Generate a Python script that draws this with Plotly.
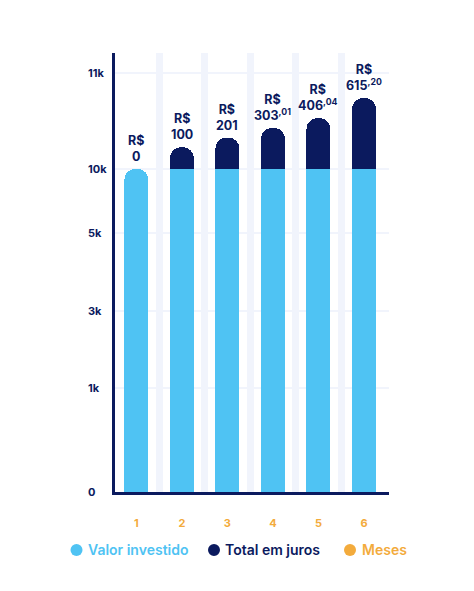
import numpy as np
import plotly.graph_objects as go

# dados
meses = [1, 2, 3, 4, 5, 6]
valor_investido = [10000, 10000, 10000, 10000, 10000, 10000]
total_juros = [0, 100, 201, 303.01, 406.04, 615.20]

# eixo y com escala própria (não linear)
ticks_y = [0, 1000, 3000, 5000, 10000, 11000]
ticks_y_texto = ["0", "1k", "3k", "5k", "10k", "11k"]
escala_y = [0, 104.5, 181.5, 259, 323.5, 419]

legenda_nomes = ["Valor investido", "Total em juros", "Meses"]

AZUL = "#4fc3f3"
MARINHO = "#0b1a5e"
LARANJA = "#f3ab3c"
GRADE = "#f1f4fc"

# a página tem margem de 8px no body
OFF = 8
W, H = 474 - OFF, 591 - OFF
L, R, T, B = 107, 85, 45, 98.5
PW, PH = W - L - R, H - T - B
X_RANGE = [0.53, 6.55]
BARGAP = 0.473


def pos(v):
    return np.interp(v, ticks_y, escala_y)


def px_x(px):
    return (px - OFF - L) / PW


def px_y(py):
    return (H - B - (py - OFF)) / PH


investido = np.array(valor_investido, dtype=float)
juros = np.array(total_juros, dtype=float)
topo = pos(investido + juros)
base = pos(investido)

largura_px = (1 - BARGAP) * PW / (X_RANGE[1] - X_RANGE[0])
raio = largura_px / 2  # eixo y em px (range = altura da área)

# tampa arredondada acima do valor quando há juros
tampa = np.where(juros > 0, raio, 0)

fig = go.Figure()
fig.add_trace(go.Bar(x=meses, y=base,
                     marker=dict(color=AZUL, cornerradius="50%", line=dict(width=0)),
                     showlegend=False, hoverinfo="skip"))
fig.add_trace(go.Bar(x=meses, y=topo - base + tampa,
                     marker=dict(color=MARINHO, cornerradius="50%", line=dict(width=0)),
                     showlegend=False, hoverinfo="skip"))

# rótulos R$ acima das barras
for m, j, t, c in zip(meses, juros, topo, tampa):
    inteiro = int(j)
    cent = int(round((j - inteiro) * 100))
    num = f"{inteiro}" + (f"<sup>,{cent:02d}</sup>" if cent else "")
    fig.add_annotation(x=m, y=t + c, text="R$<br>" + num, showarrow=False, yanchor="bottom",
                       yshift=3, font=dict(size=12.5, color=MARINHO, weight=700))

# rótulos do eixo y (alinhados à esquerda)
for v, txt in zip(ticks_y, ticks_y_texto):
    fig.add_annotation(xref="paper", x=px_x(86), y=pos(v), text=txt, showarrow=False,
                       xanchor="left", yanchor="middle",
                       font=dict(size=11, color=MARINHO, weight=700))

# legenda
leg_cores = [AZUL, MARINHO, LARANJA]
leg_circulo = [76.5, 214, 350]
leg_texto = [86, 223, 360]
for nome, cor, cx, tx in zip(legenda_nomes, leg_cores, leg_circulo, leg_texto):
    fig.add_shape(type="circle", xref="paper", yref="paper", xsizemode="pixel",
                  ysizemode="pixel", xanchor=px_x(cx), yanchor=px_y(550.5),
                  x0=-6, x1=6, y0=-6, y1=6, fillcolor=cor, line=dict(width=0))
    fig.add_annotation(xref="paper", yref="paper", x=px_x(tx), y=px_y(550.5), text=nome,
                       showarrow=False, xanchor="left", yanchor="middle",
                       font=dict(size=14, color=cor, weight=600))

fig.update_layout(
    width=W, height=H,
    margin=dict(l=L, r=R, t=T, b=B),
    barmode="stack", bargap=BARGAP,
    paper_bgcolor="white", plot_bgcolor="white",
    font=dict(family="Inter, Open Sans, sans-serif", color=MARINHO),
    xaxis=dict(
        range=X_RANGE, tickmode="array", tickvals=meses, ticktext=[str(m) for m in meses],
        showgrid=False, zeroline=False, showline=True, linecolor=MARINHO, linewidth=3,
        ticks="", ticklabelstandoff=19,
        tickfont=dict(size=11, color=LARANJA, weight=700),
        minor=dict(tickmode="array", tickvals=[m + 0.5 for m in meses[:-1]],
                   showgrid=True, gridcolor=GRADE, gridwidth=7, ticks=""),
        fixedrange=True,
    ),
    yaxis=dict(
        range=[0, PH], tickmode="array", tickvals=list(pos(ticks_y)),
        showticklabels=False, showgrid=True, gridcolor=GRADE, gridwidth=2,
        zeroline=False, showline=True, linecolor=MARINHO, linewidth=3, ticks="",
        fixedrange=True,
    ),
)

fig.write_html("out.html")
